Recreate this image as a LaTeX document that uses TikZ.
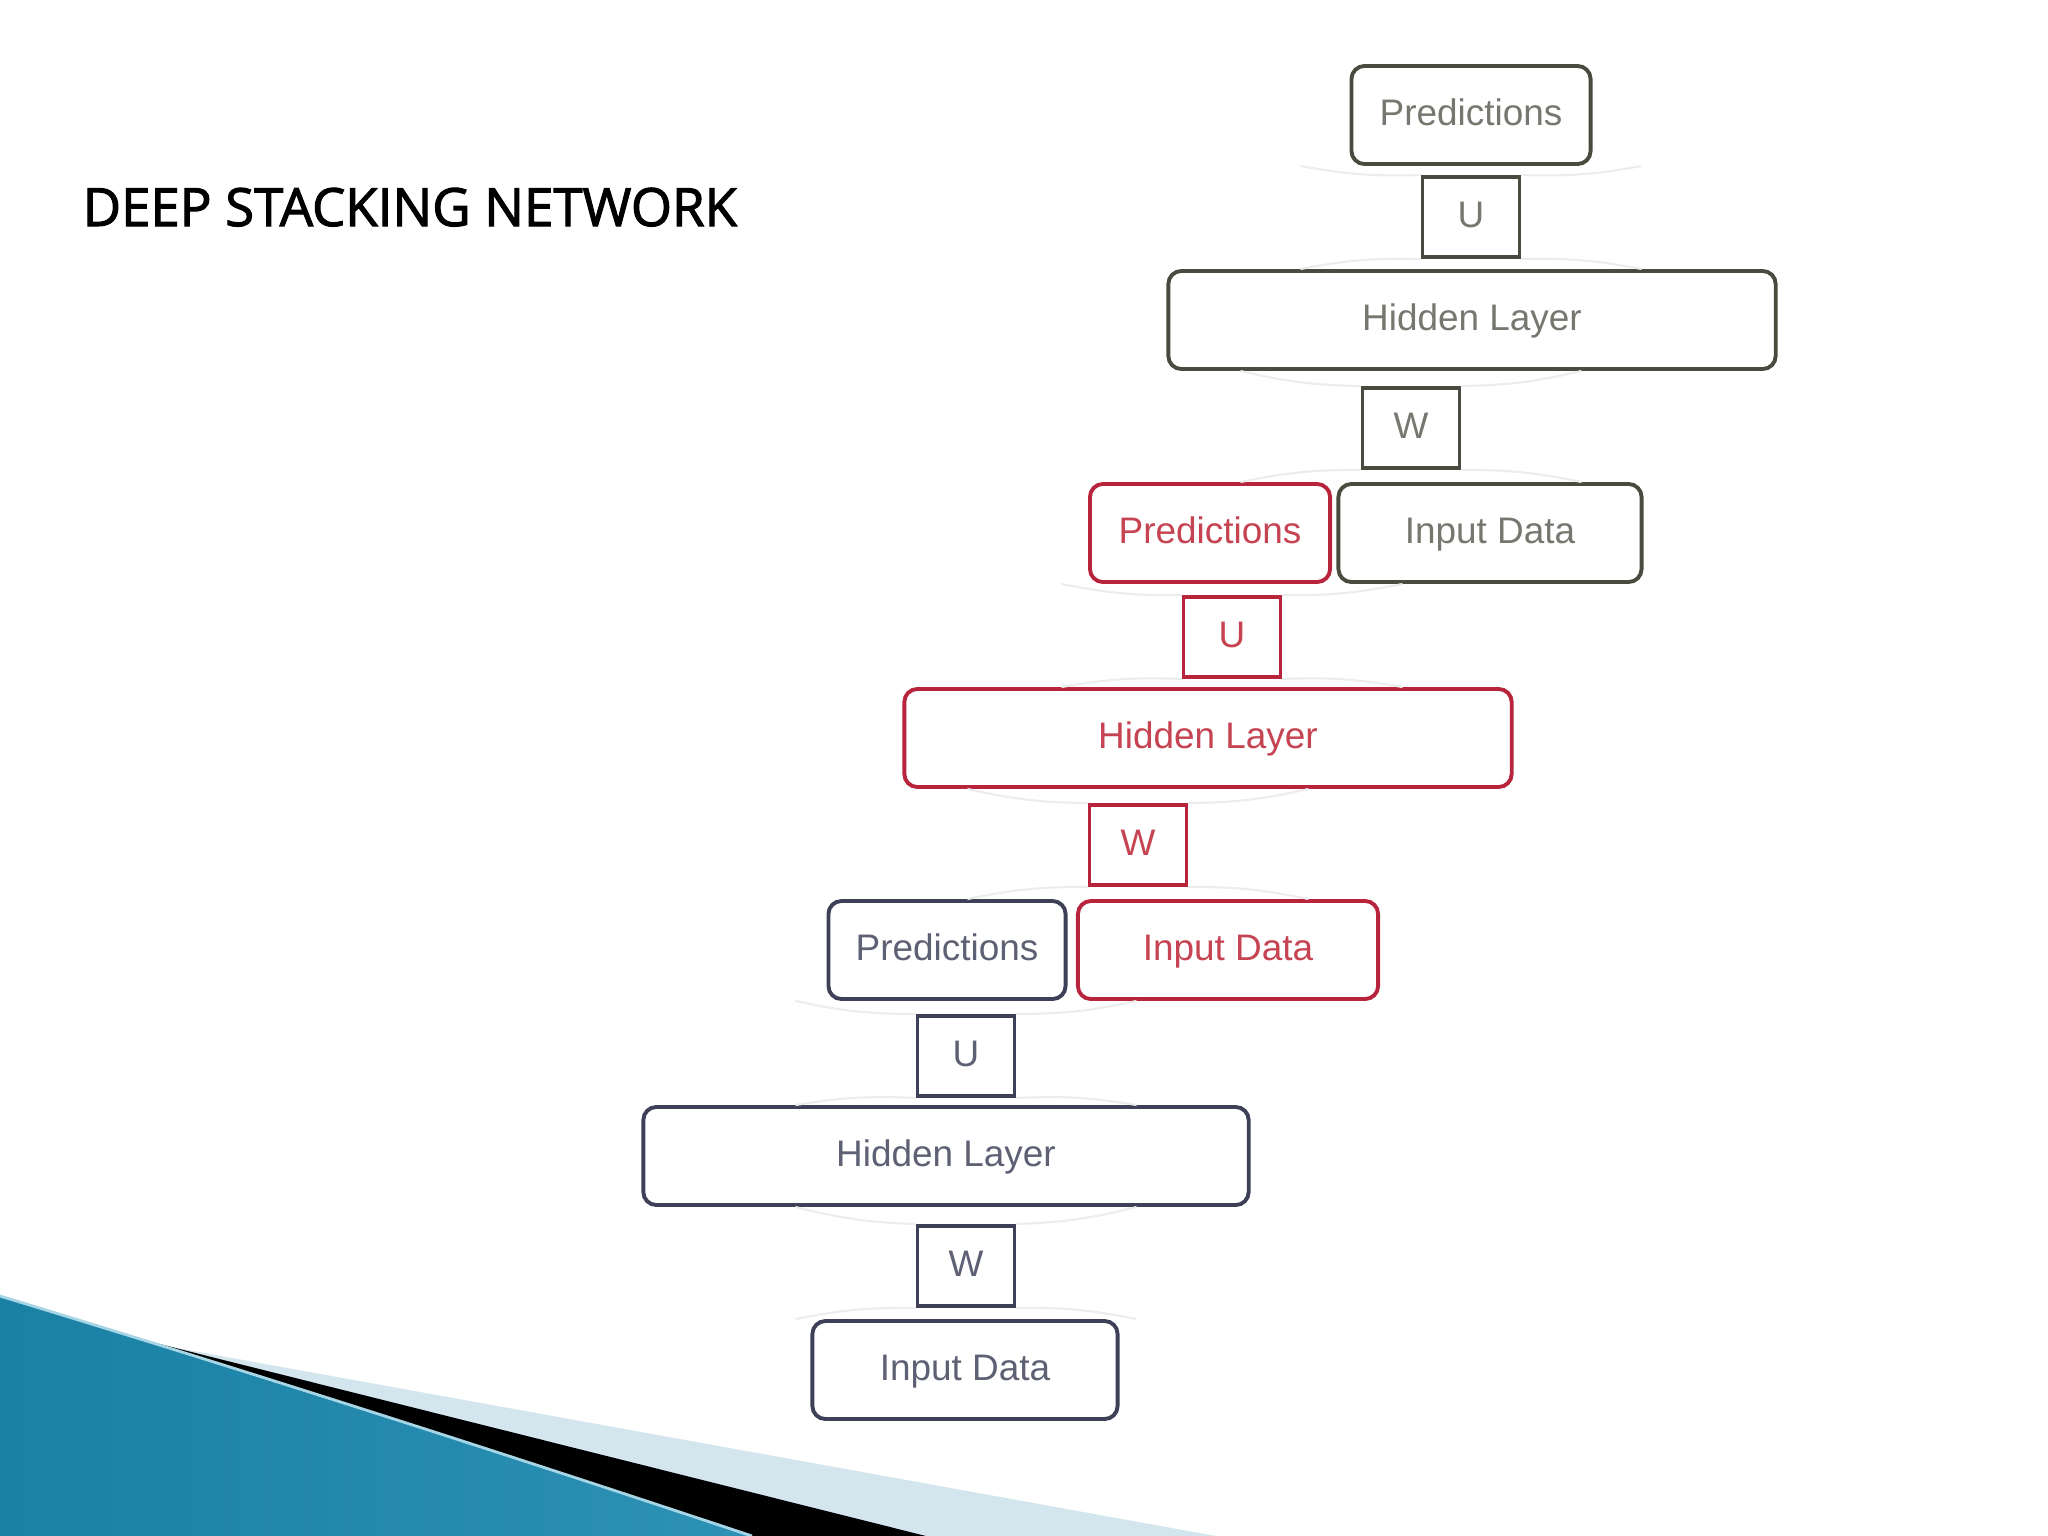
\documentclass[tikz,border=0pt]{standalone}
\usepackage{fontspec}
\setmainfont{Liberation Sans}
\newfontfamily\titlefont[FakeBold=2]{Open Sans}
\definecolor{dsnDeep}{HTML}{1A80A4}
\definecolor{dsnLight}{HTML}{58BCDD}
\definecolor{dsnPale}{HTML}{D4E6ED}
\definecolor{dsnEdge}{HTML}{A6D6E6}
\definecolor{topLine}{HTML}{4A4A3E}
\definecolor{topText}{HTML}{77776F}
\definecolor{redLine}{HTML}{B8243C}
\definecolor{redText}{HTML}{C64352}
\definecolor{blueLine}{HTML}{3E4058}
\definecolor{blueText}{HTML}{5E6074}
\begin{document}
\begin{tikzpicture}[x=0.01cm,y=-0.01cm,
  box/.style={draw,line width=1.1pt,rounded corners=1.3mm,minimum height=0.98cm,
    inner sep=0pt,text height=1.6ex,text depth=0.45ex,font=\fontsize{10.5}{12}\selectfont},
  wt/.style={draw,line width=1.1pt,minimum width=0.97cm,minimum height=0.8cm,
    inner sep=0pt,text height=1.6ex,text depth=0.45ex,font=\fontsize{10.5}{12}\selectfont},
  topc/.style={draw=topLine,text=topText},
  redc/.style={draw=redLine,text=redText},
  bluec/.style={draw=blueLine,text=blueText},
  faint/.style={draw=black!7,line width=0.6pt}]
\useasboundingbox[fill=white] (0,0) rectangle (2048,1536);

% corner decoration
\fill[dsnPale] (0,1316) -- (1216,1536) -- (0,1536) -- cycle;
\fill[black] (0,1304) -- (926,1536) -- (0,1536) -- cycle;
\shade[left color=dsnDeep,middle color=dsnLight,right color=dsnDeep!70!dsnLight]
  (0,1296) .. controls (250,1372) and (500,1452) .. (752,1536) -- (0,1536) -- cycle;
\draw[dsnEdge,line width=0.8pt] (0,1296) .. controls (250,1372) and (500,1452) .. (752,1536);

\node[anchor=base west,inner sep=0pt,font=\titlefont\fontsize{15}{18}\selectfont]
  (title) at (82,226) {DEEP STACKING NETWORK};

% third module
\node[box,topc,minimum width=2.39cm] (predT) at (1471,115) {Predictions};
\node[wt,topc] (uT) at (1471,217) {U};
\node[box,topc,minimum width=6.07cm] (hidT) at (1472,320) {Hidden Layer};
\node[wt,topc] (wT) at (1411,428) {W};
% second module
\node[box,redc,minimum width=2.40cm] (predR) at (1210,533) {Predictions};
\node[box,topc,minimum width=3.03cm] (inT) at (1490,533) {Input Data};
\node[wt,redc] (uR) at (1232,637) {U};
\node[box,redc,minimum width=6.07cm] (hidR) at (1208,738) {Hidden Layer};
\node[wt,redc] (wR) at (1138,845) {W};
% first module
\node[box,bluec,minimum width=2.37cm] (predB) at (947,950) {Predictions};
\node[box,redc,minimum width=3.00cm] (inR) at (1228,950) {Input Data};
\node[wt,bluec] (uB) at (966,1056) {U};
\node[box,bluec,minimum width=6.05cm] (hidB) at (946,1156) {Hidden Layer};
\node[wt,bluec] (wB) at (966,1266) {W};
\node[box,bluec,minimum width=3.05cm] (inB) at (965,1370) {Input Data};

\foreach \s/\w in {uT/hidT,wT/predR,uR/hidR,wR/predB,uB/hidB,wB/inB}{
  \draw[faint] (\s.south west) to[bend right=6] ([xshift=-1.2cm]\s.south west |- \w.north);
  \draw[faint] (\s.south east) to[bend left=6] ([xshift=1.2cm]\s.south east |- \w.north);
}
\foreach \w/\s in {predT/uT,hidT/wT,predR/uR,hidR/wR,predB/uB,hidB/wB}{
  \draw[faint] ([xshift=-1.2cm]\s.north west |- \w.south) to[bend right=6] (\s.north west);
  \draw[faint] ([xshift=1.2cm]\s.north east |- \w.south) to[bend left=6] (\s.north east);
}
\end{tikzpicture}
\end{document}
